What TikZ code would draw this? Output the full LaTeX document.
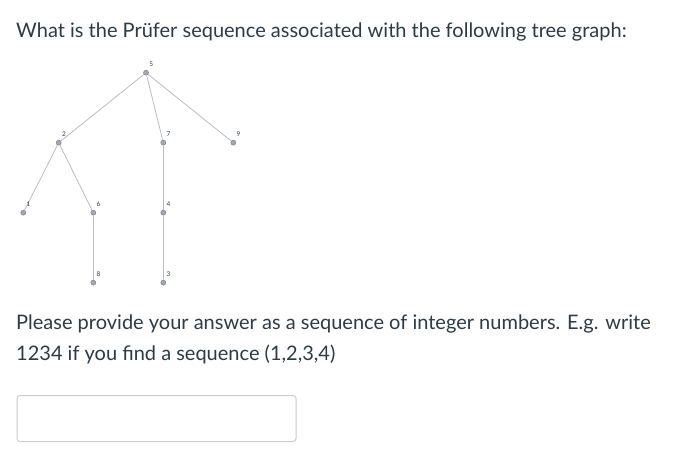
\documentclass[tikz,border=0pt]{standalone}
\usepackage{fontspec}
\setmainfont{Lato}
\usetikzlibrary{calc}
\definecolor{txt}{HTML}{2D3B45}
\definecolor{edge}{HTML}{BABDC2}
\definecolor{vfill}{HTML}{A3A8B1}
\definecolor{vdraw}{HTML}{7C828C}
\definecolor{boxc}{HTML}{C7CDD1}
\begin{document}
\begin{tikzpicture}[x=1pt,y=-1pt,
  vert/.style={circle,fill=vfill,draw=vdraw,line width=0.5pt,inner sep=0pt,minimum size=5pt},
  lbl/.style={font=\fontsize{6.5}{7}\selectfont,text=txt,inner sep=0pt},
  edg/.style={draw=edge,line width=0.8pt},
  body/.style={font=\fontsize{20}{24}\selectfont,text=txt,anchor=base west,inner sep=0pt}]
\useasboundingbox (0,0) rectangle (700,466);
\fill[white] (0,0) rectangle (700,466);
\node[body] (title) at (16,37) {What is the Prüfer sequence associated with the following tree graph:};
\node[vert] (n5) at (146,72.7) {};
\node[vert] (n2) at (58.7,142.7) {};
\node[vert] (n7) at (163.3,142.7) {};
\node[vert] (n9) at (233.3,142.7) {};
\node[vert] (n1) at (23.3,212.7) {};
\node[vert] (n6) at (93.3,212.7) {};
\node[vert] (n4) at (163.3,212.7) {};
\node[vert] (n8) at (93.3,282.7) {};
\node[vert] (n3) at (163.3,282.7) {};
\draw[edg] (n5) -- (n2);
\draw[edg] (n5) -- (n7);
\draw[edg] (n5) -- (n9);
\draw[edg] (n2) -- (n1);
\draw[edg] (n2) -- (n6);
\draw[edg] (n7) -- (n4);
\draw[edg] (n6) -- (n8);
\draw[edg] (n4) -- (n3);
\node[lbl] (l5) at ($(n5)+(5.3,-8.5)$) {5};
\node[lbl] (l2) at ($(n2)+(5.3,-8.5)$) {2};
\node[lbl] (l7) at ($(n7)+(5.3,-8.5)$) {7};
\node[lbl] (l9) at ($(n9)+(5.3,-8.5)$) {9};
\node[lbl] (l1) at ($(n1)+(5.3,-8.5)$) {1};
\node[lbl] (l6) at ($(n6)+(5.3,-8.5)$) {6};
\node[lbl] (l4) at ($(n4)+(5.3,-8.5)$) {4};
\node[lbl] (l8) at ($(n8)+(5.3,-8.5)$) {8};
\node[lbl] (l3) at ($(n3)+(5.3,-8.5)$) {3};
\node[body] (p1) at (16,329) {Please provide your answer as a sequence of integer numbers. E.g. write};
\node[body] (p2) at (16,360) {1234 if you find a sequence (1,2,3,4)};
\draw[boxc,line width=1pt,rounded corners=3pt] (17,395.5) rectangle (296,441.5);
\end{tikzpicture}
\end{document}
